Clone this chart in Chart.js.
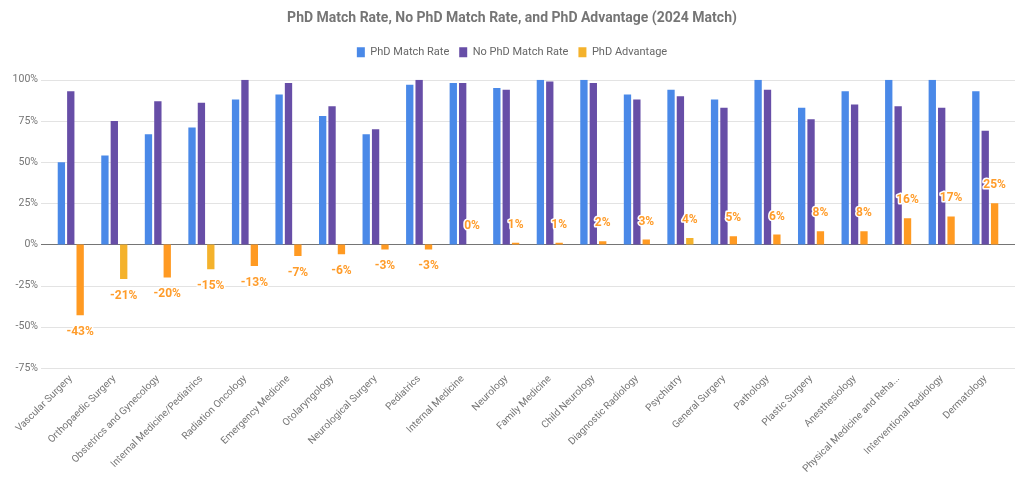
<!DOCTYPE html>
<html>
<head>
<meta charset="utf-8">
<script src="https://cdn.jsdelivr.net/npm/chart.js@4.4.0/dist/chart.umd.min.js"></script>
<style>
  html, body { margin: 0; padding: 0; background: #fff; }
  #wrap { width: 1024px; height: 484px; }
</style>
</head>
<body>
<div id="wrap"><canvas id="myChart"></canvas></div>
<script>
"use strict";

// Data (2024 Match)
const specialties = [
  'Vascular Surgery', 'Orthopaedic Surgery', 'Obstetrics and Gynecology',
  'Internal Medicine/Pediatrics', 'Radiation Oncology', 'Emergency Medicine',
  'Otolaryngology', 'Neurological Surgery', 'Pediatrics', 'Internal Medicine',
  'Neurology', 'Family Medicine', 'Child Neurology', 'Diagnostic Radiology',
  'Psychiatry', 'General Surgery', 'Pathology', 'Plastic Surgery',
  'Anesthesiology', 'Physical Medicine and Reha...', 'Interventional Radiology',
  'Dermatology'
];
const phdRate =      [50, 54, 67, 71, 88, 91, 78, 67, 97, 98, 95, 100, 100, 91, 94, 88, 100, 83, 93, 100, 100, 93];
const noPhdRate =    [93, 75, 87, 86, 100, 98, 84, 70, 100, 98, 94, 99, 98, 88, 90, 83, 94, 76, 85, 84, 83, 69];
const phdAdvantage = [-43, -21, -20, -15, -13, -7, -6, -3, -3, 0, 1, 1, 2, 3, 4, 5, 6, 8, 8, 16, 17, 25];
const yTicks = [-75, -50, -25, 0, 25, 50, 75, 100];

const ORANGE = '#ff9a22';
const YELLOW = '#f4b22c';
const advColors = phdAdvantage.map((v, i) => [1, 3, 14].includes(i) ? YELLOW : ORANGE);

// gridlines run a little past the plot area on both sides
const wideGrid = {
  id: 'wideGrid',
  beforeDatasetsDraw(chart) {
    const y = chart.scales.y;
    const ctx = chart.ctx;
    ctx.save();
    ctx.lineWidth = 1;
    yTicks.forEach(v => {
      const py = Math.round(y.getPixelForValue(v)) + 0.5;
      ctx.strokeStyle = v === 0 ? '#757575' : '#e3e3e3';
      ctx.beginPath();
      ctx.moveTo(41, py);
      ctx.lineTo(chart.chartArea.right + 8, py);
      ctx.stroke();
    });
    ctx.restore();
  }
};

// value labels on the advantage bars
const advLabels = {
  id: 'advLabels',
  afterDatasetsDraw(chart) {
    const meta = chart.getDatasetMeta(2);
    const ctx = chart.ctx;
    ctx.save();
    ctx.font = 'bold 12px Roboto';
    ctx.textAlign = 'center';
    ctx.textBaseline = 'middle';
    ctx.lineJoin = 'round';
    ctx.lineWidth = 3;
    ctx.strokeStyle = '#ffffff';
    ctx.fillStyle = '#ff9c2a';
    meta.data.forEach((bar, i) => {
      const v = phdAdvantage[i];
      const y = v < 0 ? bar.y + 17 : bar.y - 18;
      const txt = v + '%';
      ctx.strokeText(txt, bar.x, y);
      ctx.fillText(txt, bar.x, y);
    });
    ctx.restore();
  }
};

// extra room under the legend, and title/legend centred on the whole canvas
const headerLayout = {
  id: 'headerLayout',
  beforeInit(chart) {
    const fit = chart.legend.fit;
    chart.legend.fit = function () {
      fit.bind(chart.legend)();
      this.height += 12;
    };
  },
  afterLayout(chart) {
    [chart.titleBlock, chart.legend].forEach(b => {
      b.left = 0;
      b.right = chart.width;
      b.width = chart.width;
    });
  }
};

const ctx = document.querySelector('#myChart').getContext('2d');

const data = {
  labels: specialties,
  datasets: [
    {
      label: 'PhD Match Rate',
      data: phdRate,
      backgroundColor: '#4a89e8',
    },
    {
      label: 'No PhD Match Rate',
      data: noPhdRate,
      backgroundColor: '#674ea7',
    },
    {
      label: 'PhD Advantage',
      data: phdAdvantage,
      backgroundColor: advColors,
    },
  ]
};

const config = {
  type: 'bar',
  data: data,
  plugins: [wideGrid, advLabels, headerLayout],
  options: {
    responsive: true,
    maintainAspectRatio: false,
    animation: false,
    categoryPercentage: 0.647,
    barPercentage: 0.78,
    layout: {
      padding: { left: 0, right: 17, top: 0, bottom: 0 }
    },
    plugins: {
      legend: {
        position: 'top',
        labels: {
          boxWidth: 8,
          boxHeight: 10,
          padding: 10,
          color: '#666666',
          font: { family: 'Roboto', size: 11 },
          generateLabels: (chart) => chart.data.datasets.map((ds, i) => ({
            text: ds.label,
            fillStyle: i === 2 ? YELLOW : ds.backgroundColor,
            strokeStyle: 'transparent',
            lineWidth: 0,
            fontColor: '#666666',
            datasetIndex: i,
          })),
        }
      },
      title: {
        display: true,
        text: 'PhD Match Rate, No PhD Match Rate, and PhD Advantage (2024 Match)',
        color: '#757575',
        font: { family: 'Roboto', size: 14, weight: 'bold' },
        padding: { top: 10, bottom: 10 }
      },
      tooltip: { enabled: false }
    },
    scales: {
      y: {
        min: -75,
        max: 100,
        afterFit: (scale) => { scale.width = 49; },
        afterBuildTicks: (scale) => { scale.ticks = yTicks.map(v => ({ value: v })); },
        border: { display: false },
        grid: { display: false, drawTicks: false },
        ticks: {
          padding: 11,
          color: '#757575',
          font: { family: 'Roboto', size: 10.5 },
          callback: (v) => v + '%'
        }
      },
      x: {
        afterFit: (scale) => { scale.height = 116; },
        border: { display: false },
        grid: { display: false },
        ticks: {
          autoSkip: false,
          maxRotation: 45,
          minRotation: 45,
          padding: -3,
          color: '#757575',
          font: { family: 'Roboto', size: 10 }
        }
      }
    }
  }
};

const myChart = new Chart(ctx, config);
</script>
</body>
</html>
